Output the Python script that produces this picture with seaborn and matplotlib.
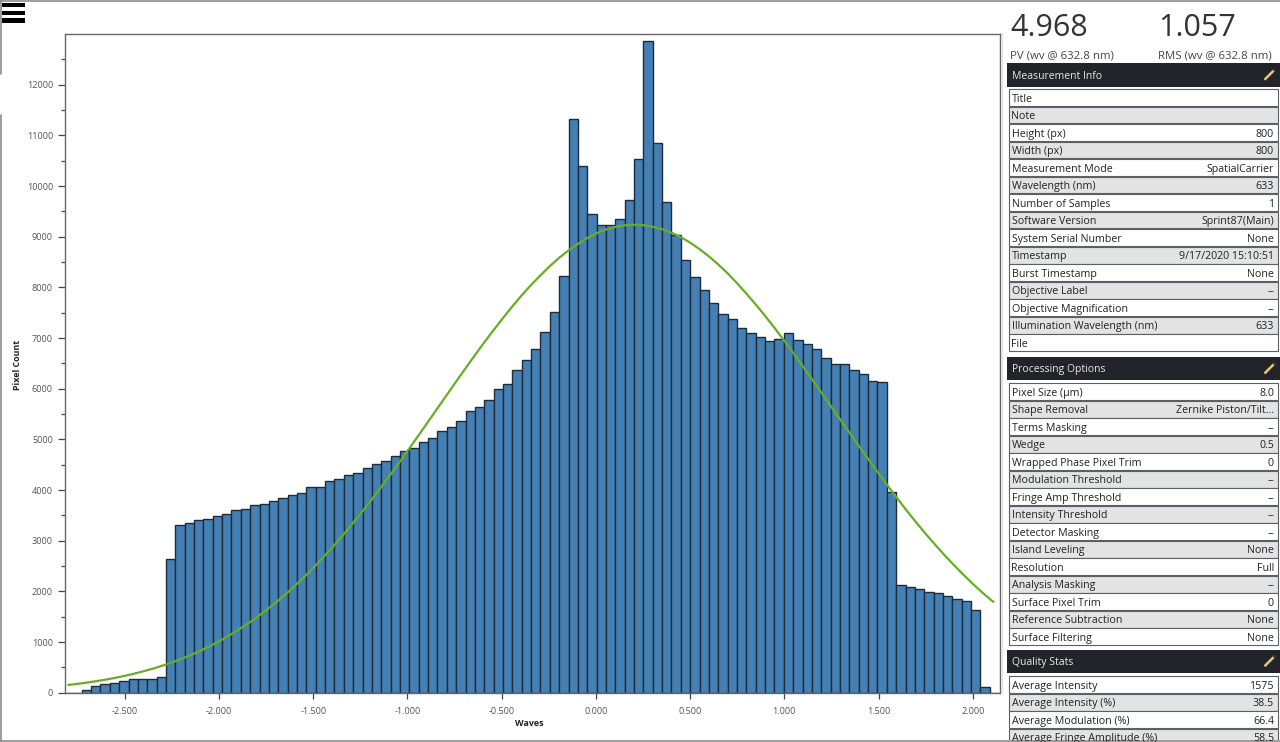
import numpy as np
import pandas as pd
import matplotlib
matplotlib.use("Agg")
import matplotlib.pyplot as plt
from matplotlib.patches import Rectangle
import seaborn as sns

bin_start = -2.828
bin_width = 0.04968
pixel_counts = [
    0, 0, 60, 130, 170, 197, 230, 270, 270, 270,
    316, 2638, 3316, 3355, 3408, 3420, 3487, 3533, 3600, 3618,
    3697, 3724, 3783, 3849, 3900, 3940, 4053, 4053, 4178, 4210,
    4296, 4329, 4434, 4513, 4572, 4665, 4770, 4822, 4941, 5020,
    5171, 5250, 5355, 5560, 5638, 5783, 5999, 6092, 6362, 6572,
    6783, 7124, 7519, 8226, 11315, 10394, 9440, 9236, 9236, 9348,
    9730, 10532, 12867, 10854, 9690, 9040, 8533, 8197, 7953, 7691,
    7473, 7372, 7204, 7092, 7013, 6947, 6980, 7105, 6965, 6875,
    6777, 6611, 6493, 6480, 6368, 6296, 6151, 6125, 3961, 2119,
    2086, 2040, 1993, 1961, 1902, 1843, 1810, 1632, 118, 0,
]
fit_x = [
    -2.8, -2.75, -2.7, -2.65, -2.6, -2.55, -2.5, -2.45, -2.4, -2.35,
    -2.3, -2.25, -2.2, -2.15, -2.1, -2.05, -2.0, -1.95, -1.9, -1.85,
    -1.8, -1.75, -1.7, -1.65, -1.6, -1.55, -1.5, -1.45, -1.4, -1.35,
    -1.3, -1.25, -1.2, -1.15, -1.1, -1.05, -1.0, -0.95, -0.9, -0.85,
    -0.8, -0.75, -0.7, -0.65, -0.6, -0.55, -0.5, -0.45, -0.4, -0.35,
    -0.3, -0.25, -0.2, -0.15, -0.1, -0.05, 0.0, 0.05, 0.1, 0.15,
    0.2, 0.25, 0.3, 0.35, 0.4, 0.45, 0.5, 0.55, 0.6, 0.65,
    0.7, 0.75, 0.8, 0.85, 0.9, 0.95, 1.0, 1.05, 1.1, 1.15,
    1.2, 1.25, 1.3, 1.35, 1.4, 1.45, 1.5, 1.55, 1.6, 1.65,
    1.7, 1.75, 1.8, 1.85, 1.9, 1.95, 2.0, 2.05, 2.1, 2.11,
]
fit_y = [
    153, 175, 200, 228, 259, 294, 333, 376, 424, 476,
    534, 597, 667, 743, 826, 916, 1014, 1120, 1234, 1356,
    1486, 1626, 1775, 1933, 2100, 2277, 2464, 2659, 2863, 3076,
    3297, 3526, 3763, 4006, 4255, 4510, 4769, 5032, 5297, 5564,
    5831, 6097, 6360, 6620, 6876, 7122, 7361, 7594, 7815, 8022,
    8216, 8399, 8568, 8716, 8847, 8964, 9062, 9136, 9190, 9223,
    9236, 9228, 9199, 9150, 9081, 8992, 8883, 8755, 8610, 8450,
    8274, 8079, 7871, 7655, 7428, 7190, 6945, 6691, 6431, 6169,
    5904, 5638, 5373, 5109, 4846, 4585, 4329, 4077, 3831, 3592,
    3360, 3137, 2922, 2716, 2519, 2330, 2149, 1979, 1819, 1795,
]
x_ticks = [-2.5, -2.0, -1.5, -1.0, -0.5, 0.0, 0.5, 1.0, 1.5, 2.0]
y_ticks = list(range(0, 13000, 1000))

stats = [("4.968", "PV (wv @ 632.8 nm)"), ("1.057", "RMS (wv @ 632.8 nm)")]
measurement_info = [
    ("Title", ""), ("Note", ""), ("Height (px)", "800"), ("Width (px)", "800"),
    ("Measurement Mode", "SpatialCarrier"), ("Wavelength (nm)", "633"),
    ("Number of Samples", "1"), ("Software Version", "Sprint87(Main)"),
    ("System Serial Number", "None"), ("Timestamp", "9/17/2020 15:10:51"),
    ("Burst Timestamp", "None"), ("Objective Label", "--"),
    ("Objective Magnification", "--"), ("Illumination Wavelength (nm)", "633"),
    ("File", ""),
]
processing_options = [
    ("Pixel Size (µm)", "8.0"), ("Shape Removal", "Zernike Piston/Tilt..."),
    ("Terms Masking", "--"), ("Wedge", "0.5"), ("Wrapped Phase Pixel Trim", "0"),
    ("Modulation Threshold", "--"), ("Fringe Amp Threshold", "--"),
    ("Intensity Threshold", "--"), ("Detector Masking", "--"),
    ("Island Leveling", "None"), ("Resolution", "Full"), ("Analysis Masking", "--"),
    ("Surface Pixel Trim", "0"), ("Reference Subtraction", "None"),
    ("Surface Filtering", "None"),
]
quality_stats = [
    ("Average Intensity", "1575"), ("Average Intensity (%)", "38.5"),
    ("Average Modulation (%)", "66.4"), ("Average Fringe Amplitude (%)", "58.5"),
]

sns.set_theme(style="white")
plt.rcParams["font.family"] = ["Open Sans", "DejaVu Sans"]

W, H = 1280, 742
fig = plt.figure(figsize=(W / 100, H / 100), dpi=100, facecolor="white")
L, R, T, B = 64.5, 999.7, 34.0, 692.7
ax = fig.add_axes([L / W, 1 - B / H, (R - L) / W, (B - T) / H])

n_bins = len(pixel_counts)
edges = [bin_start + i * bin_width for i in range(n_bins + 1)]
centers = [bin_start + (i + 0.5) * bin_width for i in range(n_bins)]
df = pd.DataFrame({"Waves": centers, "Count": pixel_counts})
sns.histplot(data=df, x="Waves", weights="Count", bins=edges, ax=ax,
             color="#4580B5", alpha=1.0, edgecolor="#1d2b3a", linewidth=1.0)
sns.lineplot(x=fit_x, y=fit_y, ax=ax, color="#68AD25", linewidth=1.6, zorder=5)

ax.set_xlim(-2.82, 2.143)
ax.set_ylim(0, 13000)
ax.set_xticks(x_ticks)
ax.set_xticklabels([f"{v:.3f}" for v in x_ticks])
ax.set_yticks(y_ticks)
ax.set_yticks([v + 500 for v in y_ticks], minor=True)
ax.tick_params(axis="x", which="major", length=4.2, width=0.9, color="#444444",
               labelcolor="#555555", labelsize=6.6, pad=6, bottom=True)
ax.tick_params(axis="y", which="major", length=4.8, width=0.9, color="#444444",
               labelcolor="#555555", labelsize=6.6, pad=3.5, left=True)
ax.tick_params(axis="y", which="minor", length=2.6, width=0.9, color="#444444", left=True)
for s in ax.spines.values():
    s.set_color("#666666")
    s.set_linewidth(1.0)
ax.set_xlabel("")
ax.set_ylabel("")

ov = fig.add_axes([0, 0, 1, 1], zorder=10)
ov.set_xlim(0, W)
ov.set_ylim(H, 0)
ov.axis("off")
ov.patch.set_alpha(0)

ov.text(529, 724, "Waves", fontsize=6.4, fontweight="bold", color="#222222", ha="center", va="center")
ov.text(18, 365, "Pixel Count", fontsize=6.4, fontweight="bold", color="#222222",
        ha="center", va="center", rotation=90)

gray = "#8c8c8c"
ov.plot([0, W], [0.5, 0.5], color=gray, lw=1.2)
ov.plot([0, W], [740.7, 740.7], color=gray, lw=1.2)
ov.plot([1, 1], [0, 74], color=gray, lw=1.2)
ov.plot([1, 1], [115, 741], color=gray, lw=1.2)
ov.plot([1002, 1002], [33, 692], color="#e6e6e6", lw=1.0)
for y0 in (3, 10.8, 18.4):
    ov.add_patch(Rectangle((2, y0), 23, 4.2, color="black", lw=0))

clip = Rectangle((0, 0), W, 740, transform=ov.transData)

for x0, (val, lab) in zip((1010, 1158.5), stats):
    ov.text(x0, 28, val, fontsize=22, color="#333333", ha="left", va="center")
    ov.text(x0, 56.5, lab, fontsize=8.2, color="#444444", ha="left", va="center")


def section(title, header_top, header_bot, first_y, rows):
    ov.add_patch(Rectangle((1006.5, header_top), 273.5, header_bot - header_top, color="#232429", lw=0))
    ov.text(1012.5, (header_top + header_bot) / 2 + 1.3, title, fontsize=7.5, color="#e8e8e8",
            ha="left", va="center")
    cy = (header_top + header_bot) / 2
    ov.plot([1264.5, 1274.5], [cy + 5, cy - 5], color="#e6c878", lw=1.8, solid_capstyle="butt")
    ov.plot([1273.5, 1275], [cy - 4, cy - 5.5], color="#333333", lw=1.8, solid_capstyle="butt")
    pitch = 17.5
    for i, (k, v) in enumerate(rows):
        y = first_y + i * pitch
        face = "white" if i % 2 == 0 else "#e3e3e3"
        r = Rectangle((1009, y - 8.6), 268.5, 16.6, facecolor=face, edgecolor="#5a6068", lw=0.8)
        ov.add_patch(r)
        r.set_clip_path(clip)
        a = ov.text(1011.5, y + 1.3, k, fontsize=7.7, color="#222222", ha="left", va="center")
        b = ov.text(1274, y + 1.3, v, fontsize=7.7, color="#222222", ha="right", va="center")
        a.set_clip_path(clip)
        b.set_clip_path(clip)


section("Measurement Info", 63, 86.5, 98, measurement_info)
section("Processing Options", 357, 380, 392, processing_options)
section("Quality Stats", 650, 672.5, 685, quality_stats)

fig.savefig("out.png", dpi=100, facecolor="white")
